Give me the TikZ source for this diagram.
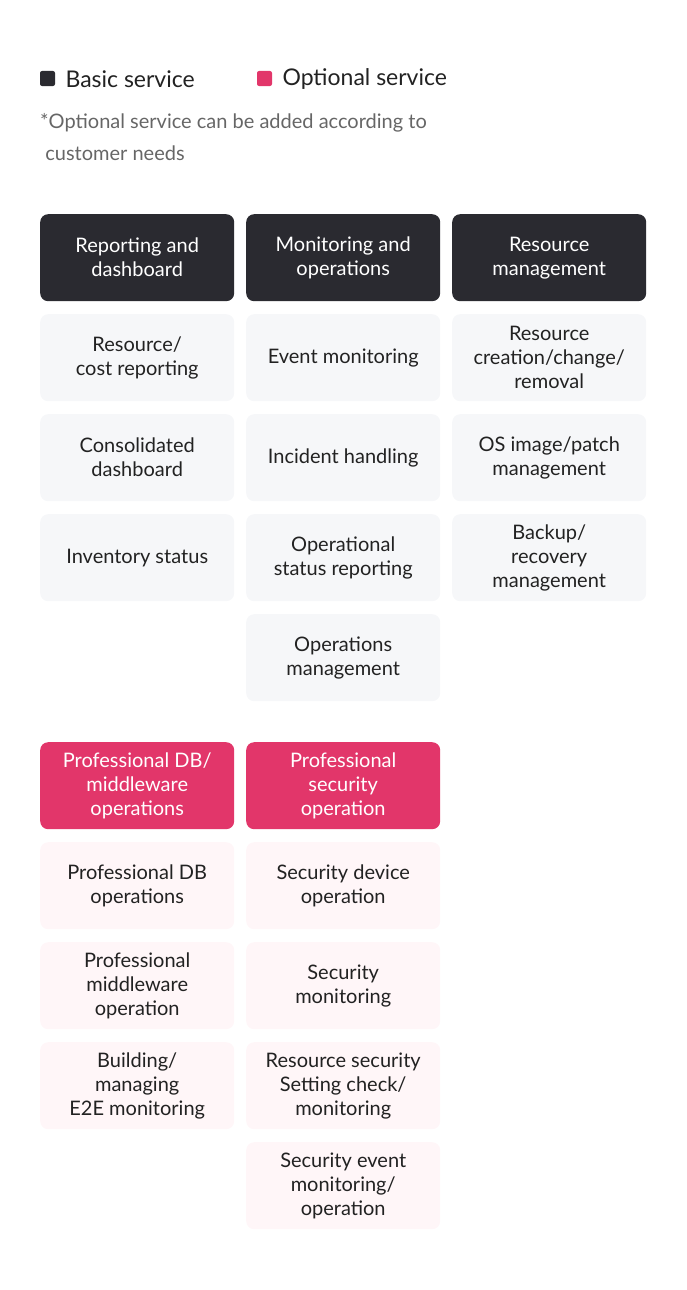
\documentclass[tikz,border=0pt]{standalone}
\usepackage{fontspec}
\setmainfont{Lato}
\definecolor{dark}{HTML}{2A2A30}
\definecolor{pink}{HTML}{E2366A}
\definecolor{lgray}{HTML}{F6F7F9}
\definecolor{lpink}{HTML}{FFF6F8}
\definecolor{txt}{HTML}{222222}
\definecolor{note}{HTML}{666666}
\begin{document}
\begin{tikzpicture}[x=1pt,y=-1pt,
  box/.style={rounded corners=8pt,minimum width=194pt,minimum height=87pt,inner sep=2pt,align=center,font=\fontsize{20}{24}\selectfont,anchor=north west},
  bhead/.style={box,fill=dark,text=white},
  bbody/.style={box,fill=lgray,text=txt},
  phead/.style={box,fill=pink,text=white},
  pbody/.style={box,fill=lpink,text=txt},
  leg/.style={font=\fontsize{23}{26}\selectfont,text=txt,anchor=west}]
\useasboundingbox (0,0) rectangle (686,1290);
\fill[dark,rounded corners=2pt] (40,71) rectangle (55,86);
\node[leg] (l1) at (62,79) {Basic service};
\fill[pink,rounded corners=2pt] (257,71) rectangle (272,86);
\node[leg] (l2) at (279,79) {Optional service};
\node[anchor=north west,align=left,text=note,font=\fontsize{20}{32}\selectfont,inner sep=0pt] (n) at (40,113) {*Optional service can be added according to\\\ customer needs};
\node[bhead] (h1) at (40,214) {Reporting and\\dashboard};
\node[bhead] (h2) at (246,214) {Monitoring and\\operations};
\node[bhead] (h3) at (452,214) {Resource\\management};
\node[bbody] (a1) at (40,314) {Resource/\\cost reporting};
\node[bbody] (a2) at (40,414) {Consolidated\\dashboard};
\node[bbody] (a3) at (40,514) {Inventory status};
\node[bbody] (b1) at (246,314) {Event monitoring};
\node[bbody] (b2) at (246,414) {Incident handling};
\node[bbody] (b3) at (246,514) {Operational\\status reporting};
\node[bbody] (b4) at (246,614) {Operations\\management};
\node[bbody,font=\fontsize{20}{24}\selectfont] (c1) at (452,314) {Resource\\creation/change/\\removal};
\node[bbody] (c2) at (452,414) {OS image/patch\\management};
\node[bbody] (c3) at (452,514) {Backup/\\recovery\\management};
\node[phead] (p1) at (40,742) {Professional DB/\\middleware\\operations};
\node[phead] (p2) at (246,742) {Professional\\security\\operation};
\node[pbody] (d1) at (40,842) {Professional DB\\operations};
\node[pbody] (d2) at (40,942) {Professional\\middleware\\operation};
\node[pbody] (d3) at (40,1042) {Building/\\managing\\E2E monitoring};
\node[pbody] (e1) at (246,842) {Security device\\operation};
\node[pbody] (e2) at (246,942) {Security\\monitoring};
\node[pbody] (e3) at (246,1042) {Resource security\\Setting check/\\monitoring};
\node[pbody] (e4) at (246,1142) {Security event\\monitoring/\\operation};
\end{tikzpicture}
\end{document}
